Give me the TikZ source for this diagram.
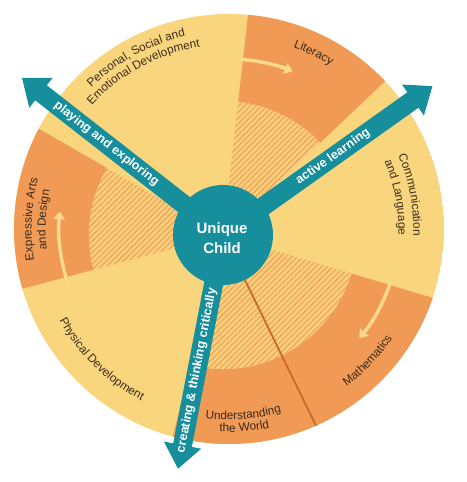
\documentclass[tikz,border=0pt]{standalone}
\usepackage{fontspec}
\setmainfont{Liberation Sans}
\usetikzlibrary{calc,arrows.meta,decorations.text}
\definecolor{ylw}{HTML}{F9D67D}
\definecolor{org}{HTML}{F09A55}
\definecolor{hatchbase}{HTML}{F8D07A}
\definecolor{stripe}{HTML}{EFA05C}
\definecolor{tealc}{HTML}{178E9C}
\definecolor{divc}{HTML}{C96A2A}
\definecolor{txt}{HTML}{3A2B1E}
\definecolor{arrowy}{HTML}{FAD88C}
\newcommand\lbl{\fontsize{11.8}{14}\selectfont\color{txt}}
\begin{document}
\begin{tikzpicture}[x=1pt,y=1pt,
  arrowlabel/.style={text=white,font=\bfseries\fontsize{12.5}{14}\selectfont,inner sep=0pt},
  smallarrow/.style={draw=arrowy,line width=3.5pt,-{Triangle[width=11pt,length=8pt]}},
  ]
\useasboundingbox (0,0) rectangle (466,482);
\fill[white] (0,0) rectangle (466,482);
\coordinate (O) at (229,253);
\coordinate (C) at (223,247);
\begin{scope}
  \clip (O) circle (215);
  \fill[ylw] (O) circle (215);
  % orange outer bands
  \fill[org,shift={(C)}] (43.5:134) -- (43.5:400) arc[start angle=43.5,end angle=83.5,radius=400] -- (83.5:134) arc[start angle=83.5,end angle=43.5,radius=134] -- cycle;
  \fill[org,shift={(C)}] (150:134) -- (150:400) arc[start angle=150,end angle=195,radius=400] -- (195:134) arc[start angle=195,end angle=150,radius=134] -- cycle;
  \fill[org,shift={(C)}] (-104:134) -- (-104:400) arc[start angle=-104,end angle=-16.7,radius=400] -- (-16.7:134) arc[start angle=-16.7,end angle=-104,radius=134] -- cycle;
  % hatched inner parts
  \begin{scope}
    \clip[shift={(C)}] (0,0) -- (43.5:134) arc[start angle=43.5,end angle=83.5,radius=134] -- cycle
      (0,0) -- (150:134) arc[start angle=150,end angle=195,radius=134] -- cycle
      (0,0) -- (-104:134) arc[start angle=-104,end angle=-16.7,radius=134] -- cycle;
    \fill[hatchbase] (C) circle (140);
    \foreach \k in {-60,...,60}
      \draw[stripe,line width=1.1pt,shift={(C)}] ({\k*5.66-200},-200) -- ++(400,400);
  \end{scope}
  % divider Maths / Understanding
  \draw[divc,line width=1.8pt,shift={(C)}] (-64:50) -- (-64:300);
\end{scope}
% small curved arrows
\draw[smallarrow,shift={(O)}] (86:170) arc[start angle=86,end angle=68,radius=170];
\draw[smallarrow,shift={(O)}] (-18:170) arc[start angle=-18,end angle=-40,radius=170];
\draw[smallarrow,shift={(O)}] (199:170) arc[start angle=199,end angle=174,radius=170];
% sector labels
\path[shift={(O)},decorate,decoration={text along path,text align=center,text={|\lbl|Personal, Social and}}]
  (163.5:197.4) arc[start angle=163.5,end angle=73.5,radius=197.4];
\path[shift={(O)},decorate,decoration={text along path,text align=center,text={|\lbl|Emotional Development}}]
  (163.5:184.4) arc[start angle=163.5,end angle=73.5,radius=184.4];
\path[shift={(O)},decorate,decoration={text along path,text align=center,text={|\lbl|Literacy}}]
  (94.3:192.4) arc[start angle=94.3,end angle=34.3,radius=192.4];
\path[shift={(O)},decorate,decoration={text along path,text align=center,text={|\lbl|Communication}}]
  (50.7:184.4) arc[start angle=50.7,end angle=-29.3,radius=184.4];
\path[shift={(O)},decorate,decoration={text along path,text align=center,text={|\lbl|and Language}}]
  (50.7:169.4) arc[start angle=50.7,end angle=-29.3,radius=169.4];
\path[shift={(O)},decorate,decoration={text along path,text align=center,text={|\lbl|Mathematics}}]
  (-83.5:196.6) arc[start angle=-83.5,end angle=-3.5,radius=196.6];
\path[shift={(O)},decorate,decoration={text along path,text align=center,text={|\lbl|Understanding}}]
  (-125.6:190.6) arc[start angle=-125.6,end angle=-45.6,radius=190.6];
\path[shift={(O)},decorate,decoration={text along path,text align=center,text={|\lbl|the World}}]
  (-125.6:203) arc[start angle=-125.6,end angle=-45.6,radius=203];
\path[shift={(O)},decorate,decoration={text along path,text align=center,text={|\lbl|Physical Development}}]
  (-179.4:192.6) arc[start angle=-179.4,end angle=-89.4,radius=192.6];
\path[shift={(O)},decorate,decoration={text along path,text align=center,text={|\lbl|Expressive Arts}}]
  (217.2:197.4) arc[start angle=217.2,end angle=137.2,radius=197.4];
\path[shift={(O)},decorate,decoration={text along path,text align=center,text={|\lbl|and Design}}]
  (217.2:183.4) arc[start angle=217.2,end angle=137.2,radius=183.4];
% teal arrows
\foreach \ang/\len in {142/255,35.4/257,-100.9/238}
  \fill[tealc,shift={(C)},rotate=\ang] (0,-9.5) -- ({\len-24},-9.5) -- ({\len-24},-19) -- (\len,0) -- ({\len-24},19) -- ({\len-24},9.5) -- (0,9.5) -- cycle;
\node[circle,fill=tealc,minimum size=100pt,inner sep=0pt] (uc) at (C) {};
\node[text=white,font=\bfseries\fontsize{15}{20}\selectfont,align=center] (uctext) at (222,244) {Unique\\Child};
\node[arrowlabel,rotate=-38] (pe) at ($(C)+(142:148)$) {playing and exploring};
\node[arrowlabel,rotate=35.4] (al) at ($(C)+(35.4:135)$) {active learning};
\node[arrowlabel,rotate=79.1] (ct) at ($(C)+(-100.9:138)$) {creating \& thinking critically};
\end{tikzpicture}
\end{document}
